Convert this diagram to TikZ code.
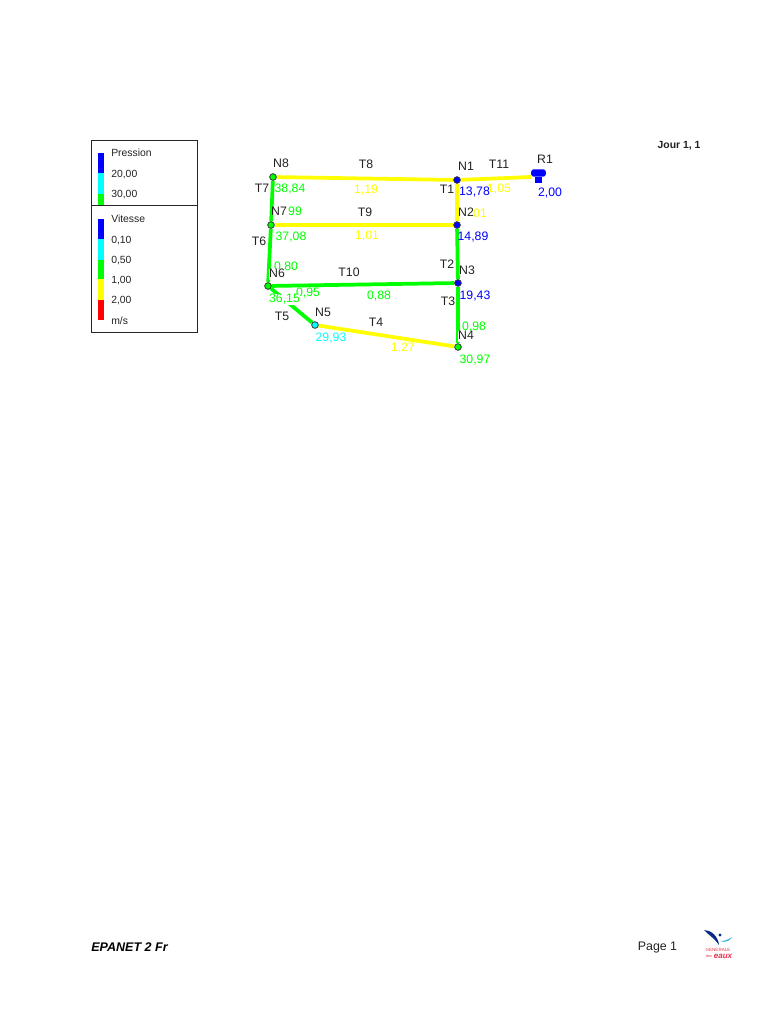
\documentclass[tikz,border=0pt]{standalone}
\usepackage{fontspec}
\setmainfont{Liberation Sans}
\usetikzlibrary{positioning,backgrounds}
\definecolor{pblue}{HTML}{0000FF}
\definecolor{pcyan}{HTML}{00FFFF}
\definecolor{pgreen}{HTML}{00FF00}
\definecolor{pyellow}{HTML}{FFFF00}
\definecolor{pred}{HTML}{FF0000}
\definecolor{txt}{HTML}{222222}
\definecolor{logoblue}{HTML}{0B2A86}
\definecolor{logocyan}{HTML}{35B6D8}
\definecolor{logored}{HTML}{E8304A}
\tikzset{
  junction/.style={circle,draw=black!80,line width=0.6pt,inner sep=0pt,minimum size=5pt},
  pipe/.style={line width=2.8pt},
  netlabel/.style={inner sep=0pt,font=\fontsize{9.2}{10}\selectfont,text height=6.6pt,text depth=0pt,yshift=-0.4pt},
  masklabel/.style={netlabel,fill=white,text depth=1.6pt},
  legendlabel/.style={inner sep=0pt,anchor=west,text=txt,font=\fontsize{7.8}{9}\selectfont,text height=5.6pt,text depth=0pt,yshift=-0.3pt},
}
\begin{document}
\begin{tikzpicture}[x=0.75pt,y=-0.75pt]
  \useasboundingbox (0,0) rectangle (768,1024);
  % junctions
  \foreach \name/\cx/\cy/\col in {N8/273/177/pgreen,N7/271/225/pgreen,N6/268/286/pgreen,N5/315/325/pcyan,
      N4/458/347/pgreen,N3/458/283/pblue,N2/457/225/pblue,N1/457/180/pblue} {
    \node[junction,fill=\col] (\name) at (\cx,\cy) {};
  }
  % reservoir
  \node[fill=pblue,rounded corners=2pt,inner sep=0pt,minimum width=11pt,minimum height=5.6pt] (R1) at (538.5,173) {};
  \node[fill=pblue,inner sep=0pt,minimum width=4.6pt,minimum height=4.6pt,below=0pt of R1] (R1stem) {};
  % pipes
  \begin{scope}[on background layer]
    \foreach \a/\b/\col in {N8/N1/pyellow,N7/N2/pyellow,N1/N2/pyellow,N5/N4/pyellow,
        N6/N3/pgreen,N2/N3/pgreen,N3/N4/pgreen,N6/N5/pgreen,N7/N6/pgreen,N8/N7/pgreen} {
      \draw[pipe,\col] (\a) -- (\b);
    }
    \draw[pipe,pyellow] (N1) -- (R1.south west);
  \end{scope}
  % values
  \foreach \name/\cx/\cy/\val/\col in {p8/290/188/{38,84}/pgreen,v8/366/189/{1,19}/pyellow,v11/499/188/{1,05}/pyellow,
      pr/550/192/{2,00}/pblue,v7/295/211/{99}/pgreen,v1/480/213/{01}/pyellow,p7/291/236/{37,08}/pgreen,
      v9/367/235/{1,01}/pyellow,p2/473/236/{14,89}/pblue,v6/286/266/{0,80}/pgreen,v5/308/292/{0,95}/pgreen,
      v10/379/295/{0,88}/pgreen,p3/475/295/{19,43}/pblue,v3/474/326/{0,98}/pgreen,p5/331/337/{29,93}/pcyan,
      v4/403/347/{1,27}/pyellow,p4/475/359/{30,97}/pgreen} {
    \node[netlabel,text=\col] (\name) at (\cx,\cy) {\val};
  }
  \node[masklabel,text=pgreen] (p6) at (284.5,299) {36,15};
  \node[masklabel,text=pblue] (p1) at (474.5,192) {13,78};
  % ids
  \foreach \name/\cx/\cy/\val in {lT8/366/164/T8,lN8/281/163/N8,lN1/466/166/N1,lT11/499/164/T11,lR1/545/159/R1,
      lT7/262/188/T7,lT9/365/212/T9,lT1/447/189/T1,lT6/259/241/T6,lT10/349/272/T10,lT2/447/264/T2,lN3/467/270/N3,
      lT3/448/301/T3,lT5/282/316/T5,lN5/323/312/N5,lT4/376/322/T4,lN7/279/211/N7,lN2/466/212/N2} {
    \node[netlabel,text=txt] (\name) at (\cx,\cy) {\val};
  }
  \node[masklabel,text=txt] (lN6) at (277,274) {N6};
  \node[masklabel,text=txt] (lN4) at (466,336) {N4};
  % legend
  \foreach \cya/\cyb/\col in {153/173/pblue,173/194/pcyan,194/205/pgreen,219/239/pblue,239/260/pcyan,
      260/279/pgreen,279/300/pyellow,300/320/pred} {
    \fill[\col] (98,\cya) rectangle (104,\cyb);
  }
  \draw[black!85,line width=0.75pt] (91,140) rectangle (197,332);
  \draw[black!85,line width=0.75pt] (91,205) -- (197,205);
  \foreach \name/\cy/\val in {lgA/152/Pression,lgB/173/{20,00},lgC/193/{30,00},lgD/218/Vitesse,lgE/239/{0,10},
      lgF/259/{0,50},lgG/279/{1,00},lgH/299/{2,00},lgI/320/{m/s}} {
    \node[legendlabel] (\name) at (111,\cy) {\val};
  }
  % page texts
  \node[inner sep=0pt,font=\fontsize{7.8}{9}\selectfont\bfseries,text=txt] (jour) at (679,145.5) {Jour 1, 1};
  \node[inner sep=0pt,font=\fontsize{9.4}{11}\selectfont\bfseries\itshape,text=black] (epanet) at (129.5,947.5) {EPANET 2 Fr};
  \node[inner sep=0pt,font=\fontsize{9.3}{11}\selectfont,text=txt] (page) at (657.5,947.5) {Page 1};
  % logo
  \fill[logoblue] (704,930) .. controls (711,930) and (718,936) .. (719,945) .. controls (715,939) and (710,936) .. (704,930);
  \fill[logoblue] (720,935) circle (1.2pt);
  \fill[logocyan] (720,941) .. controls (724,941) and (728,940) .. (732,937) .. controls (730,941) and (725,943) .. (720,941);
  \node[inner sep=0pt,font=\fontsize{3.4}{4}\selectfont,text=logored] (logoa) at (718,950) {GENERALE};
  \node[inner sep=0pt,font=\fontsize{2.8}{4}\selectfont,text=logored] (logoc) at (709,956.5) {des};
  \node[inner sep=0pt,font=\fontsize{6}{6}\selectfont\bfseries\itshape,text=logored] (logob) at (723,956) {eaux};
\end{tikzpicture}
\end{document}
